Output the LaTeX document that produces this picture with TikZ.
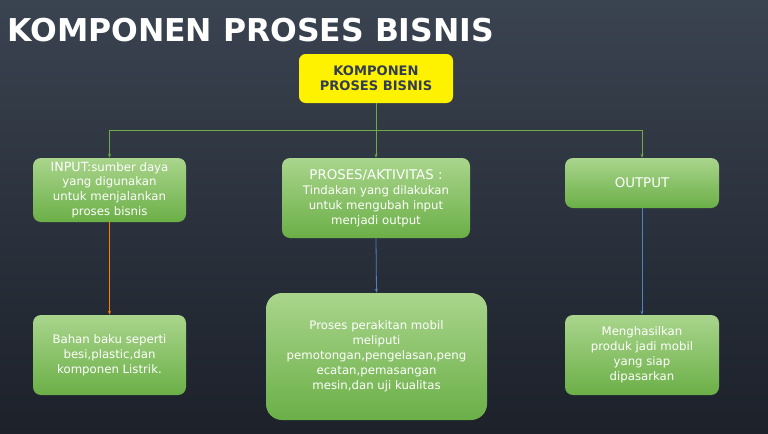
\documentclass[tikz,border=0pt]{standalone}
\usepackage{fontspec}
\setmainfont{DejaVu Sans}
\usetikzlibrary{arrows.meta}
\begin{document}
\begin{tikzpicture}[x=0.75pt,y=-0.75pt,
  gbox/.style={rounded corners=6pt,draw=none,text=white,align=center,font=\fontsize{8.8}{11.2}\selectfont,inner sep=2pt},
  conn/.style={line width=0.6pt,-{Stealth[length=3pt]}}]
\definecolor{gtop}{HTML}{A9D58C}\definecolor{gbot}{HTML}{6BAF47}
\tikzset{gbox/.append style={top color=gtop,bottom color=gbot}}
\shade[top color={rgb,255:red,58;green,67;blue,80},bottom color={rgb,255:red,28;green,33;blue,42}] (0,0) rectangle (768,433);
\useasboundingbox (0,0) rectangle (768,433);
\node[anchor=west,text=white,font=\bfseries\fontsize{23.6}{26}\selectfont,inner sep=0pt] (title) at (7,30) {KOMPONEN PROSES BISNIS};
\node[rounded corners=5pt,fill=yellow,minimum width=154*0.75pt,minimum height=49*0.75pt,align=center,text={rgb,255:red,50;green,60;blue,80},font=\bfseries\fontsize{9.8}{11.5}\selectfont] (top) at (376,78.5) {KOMPONEN\\PROSES BISNIS};
\node[gbox,minimum width=153*0.75pt,minimum height=64*0.75pt] (in) at (109.5,190) {{\fontsize{9.5}{11}\selectfont INPUT:}sumber daya\\yang digunakan\\untuk menjalankan\\proses bisnis};
\node[gbox,minimum width=188*0.75pt,minimum height=80*0.75pt] (pr) at (376,198) {{\fontsize{10}{12}\selectfont PROSES/AKTIVITAS :}\\Tindakan yang dilakukan\\untuk mengubah input\\menjadi output};
\node[gbox,minimum width=154*0.75pt,minimum height=50*0.75pt,font=\fontsize{10}{12}\selectfont] (out) at (642,183) {OUTPUT};
\node[gbox,minimum width=153*0.75pt,minimum height=80*0.75pt] (bin) at (109.5,355) {Bahan baku seperti\\besi,plastic,dan\\komponen Listrik.};
\node[gbox,rounded corners=12pt,minimum width=221*0.75pt,minimum height=127*0.75pt] (bpr) at (376.5,356.5) {Proses perakitan mobil\\meliputi\\pemotongan,pengelasan,peng\\ecatan,pemasangan\\mesin,dan uji kualitas};
\node[gbox,minimum width=154*0.75pt,minimum height=80*0.75pt] (bout) at (642,355) {Menghasilkan\\produk jadi mobil\\yang siap\\dipasarkan};
\coordinate (j) at (376,130);
\draw[line width=0.6pt,color={rgb,255:red,110;green,170;blue,70}] (top.south) -- (j);
\draw[conn,color={rgb,255:red,110;green,170;blue,70}] (j) -| (in.north);
\draw[conn,color={rgb,255:red,110;green,170;blue,70}] (j) -- (pr.north);
\draw[conn,color={rgb,255:red,110;green,170;blue,70}] (j) -| (out.north);
\draw[conn,color=orange] (in.south) -- (bin.north);
\draw[conn,color={rgb,255:red,80;green,130;blue,190}] (pr.south) -- (bpr.north);
\draw[conn,color={rgb,255:red,80;green,130;blue,190}] (out.south) -- (bout.north);
\end{tikzpicture}
\end{document}
